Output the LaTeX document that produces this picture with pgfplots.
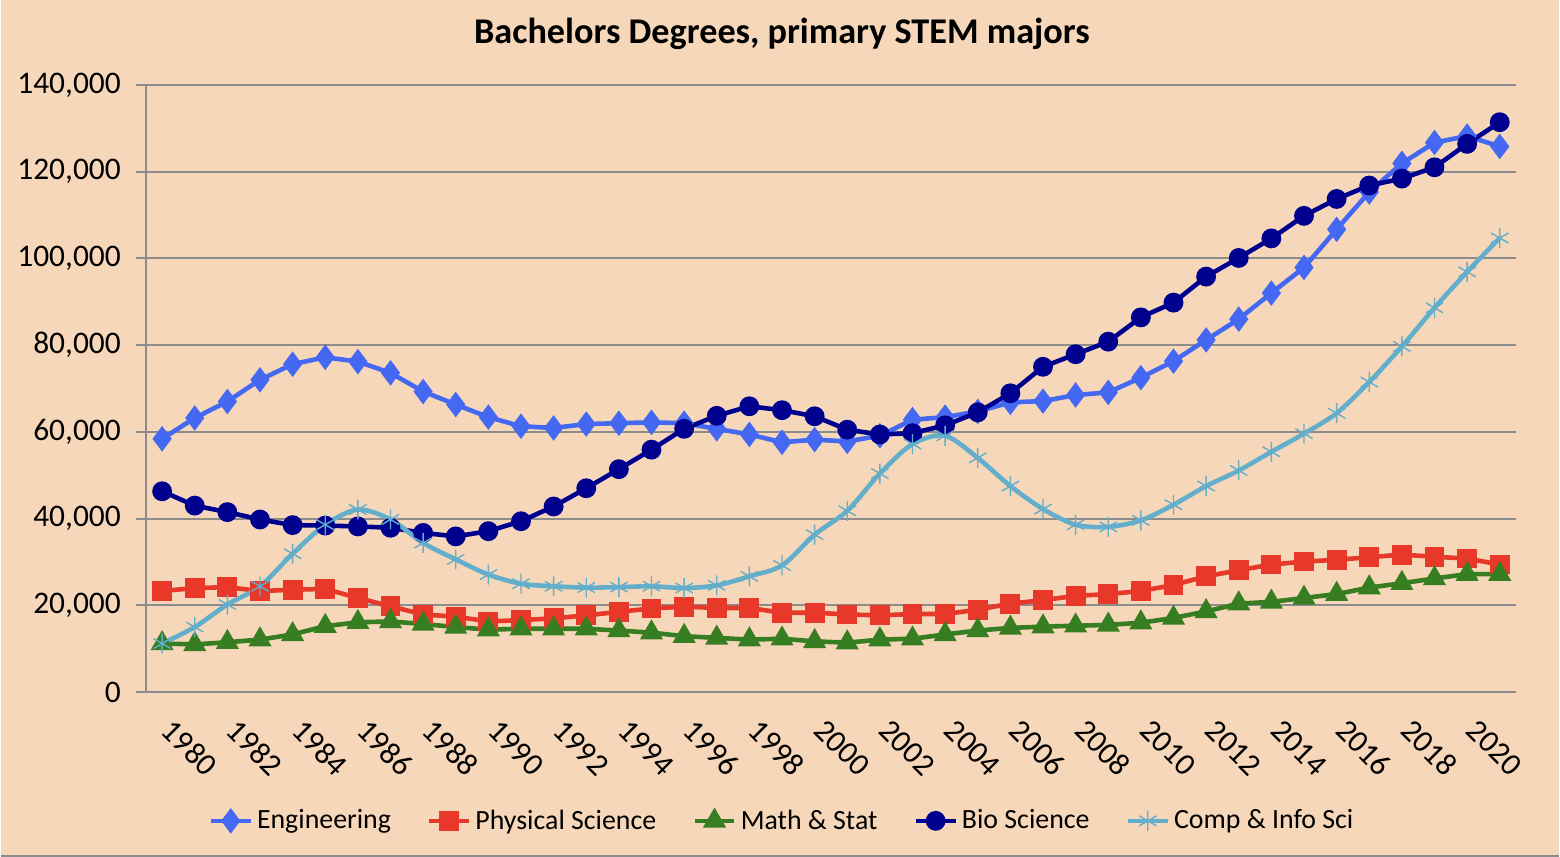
\documentclass[border=0pt]{standalone}
\usepackage{fontspec}
\setmainfont{Carlito}
\usepackage{pgfplots}
\pgfplotsset{compat=1.18}
\usepackage{pgfplotstable}

\definecolor{bg}{HTML}{F6D7B9}
\definecolor{gridc}{HTML}{8C8C8C}
\definecolor{engc}{HTML}{4468F2}
\definecolor{physc}{HTML}{E8382A}
\definecolor{mathc}{HTML}{377D22}
\definecolor{bioc}{HTML}{00008E}
\definecolor{compc}{HTML}{62AECB}

% bachelors degrees by field, 1980-2021
\pgfplotstableread{
year eng phys math bio comp
1980 58400 23300 11200 46300 11200
1981 63200 24000 11000 43000 15000
1982 67000 24200 11500 41500 20200
1983 72000 23300 12100 39800 24400
1984 75600 23600 13300 38500 31900
1985 77200 23800 15200 38400 38600
1986 76200 21700 16100 38200 42100
1987 73600 19800 16300 37900 39800
1988 69300 17900 15700 36700 34400
1989 66300 17400 15000 35900 30600
1990 63400 16300 14400 37100 27100
1991 61300 16600 14600 39400 25000
1992 60900 17000 14600 42800 24400
1993 61800 17700 14600 47000 24100
1994 62000 18500 14200 51400 24200
1995 62200 19300 13700 55900 24400
1996 62000 19700 12900 60700 24000
1997 60700 19400 12500 63700 24600
1998 59400 19400 12100 65900 26700
1999 57600 18300 12300 65000 29200
2000 58200 18300 11700 63600 36300
2001 57800 17900 11400 60500 41800
2002 59100 17700 12100 59400 50400
2003 62800 18000 12300 59700 57200
2004 63400 18000 13300 61500 59100
2005 64700 19000 14200 64500 54000
2006 66800 20400 14800 68900 47500
2007 67100 21200 15100 75000 42200
2008 68500 22200 15300 77900 38600
2009 69100 22600 15500 80800 38100
2010 72500 23300 16000 86400 39600
2011 76300 24700 17100 89800 43200
2012 81200 26700 18600 95800 47500
2013 86000 28100 20400 100100 51100
2014 92000 29400 20800 104600 55400
2015 97900 30100 21700 109800 59600
2016 106700 30500 22600 113700 64300
2017 115300 31100 24100 116800 71500
2018 121900 31700 25100 118400 79700
2019 126700 31200 26200 121000 88600
2020 128200 30800 27200 126400 96900
2021 125800 29400 27200 131400 104700
}\degrees

\begin{document}
\begin{tikzpicture}
\fill[bg] (0,0) rectangle (780bp,429bp);
\draw[gridc, line width=1bp] (0,0.5bp) -- (780bp,0.5bp);
\node[font=\fontsize{18.2}{21}\selectfont\bfseries] at (391bp,412bp) {Bachelors Degrees, primary STEM majors};
\begin{axis}[
    at={(72.5bp,82.5bp)}, anchor=south west,
    width=686bp, height=304bp, scale only axis,
    xmin=1979.5, xmax=2021.5,
    ymin=0, ymax=140000,
    axis x line*=bottom, axis y line*=left,
    axis line style={-, gridc, line width=1bp},
    tick align=outside,
    xtick={1980,1982,...,2020},
    xticklabels={1980,1982,1984,1986,1988,1990,1992,1994,1996,1998,2000,2002,2004,2006,2008,2010,2012,2014,2016,2018,2020},
    minor xtick={1979.5,1980.5,...,2021.5},
    ytick={0,20000,...,140000},
    yticklabels={0,{20,000},{40,000},{60,000},{80,000},{100,000},{120,000},{140,000}},
    xtick style={draw=none},
    ytick style={gridc, line width=1bp},
    minor tick style={gridc, line width=1bp},
    major tick length=5bp, minor tick length=5bp,
    ymajorgrids=true,
    grid style={gridc, line width=1bp},
    scaled x ticks=false, scaled y ticks=false,
    ticklabel style={font=\fontsize{15.8}{18}\selectfont},
    xticklabel style={yshift=-9bp, rotate=-45, anchor=west},
    yticklabel style={xshift=-4bp},
    legend columns=5,
    legend style={at={(0.465,-0.212)}, anchor=center, draw=none, fill=none,
        font=\fontsize{14}{16}\selectfont,
        /tikz/every even column/.append style={column sep=16bp}},
    legend image code/.code={\draw[mark repeat=2,mark phase=2] plot coordinates {(0bp,0bp) (10bp,0bp) (20bp,0bp)};},
    every axis plot/.append style={line width=2.3bp},
]
\addplot[engc, mark=diamond*, mark size=4.5bp] table[x=year, y=eng] {\degrees};
\addlegendentry{Engineering}
\addplot[physc, mark=square*, mark size=3.8bp] table[x=year, y=phys] {\degrees};
\addlegendentry{Physical Science}
\addplot[mathc, mark=triangle*, mark size=4.4bp] table[x=year, y=math] {\degrees};
\addlegendentry{Math \& Stat}
\addplot[bioc, mark=*, mark size=3.8bp] table[x=year, y=bio] {\degrees};
\addlegendentry{Bio Science}
\addplot[compc, smooth, mark=asterisk, mark size=5bp, mark options={line width=0.7bp}] table[x=year, y=comp] {\degrees};
\addlegendentry{Comp \& Info Sci}
\end{axis}
\end{tikzpicture}
\end{document}
